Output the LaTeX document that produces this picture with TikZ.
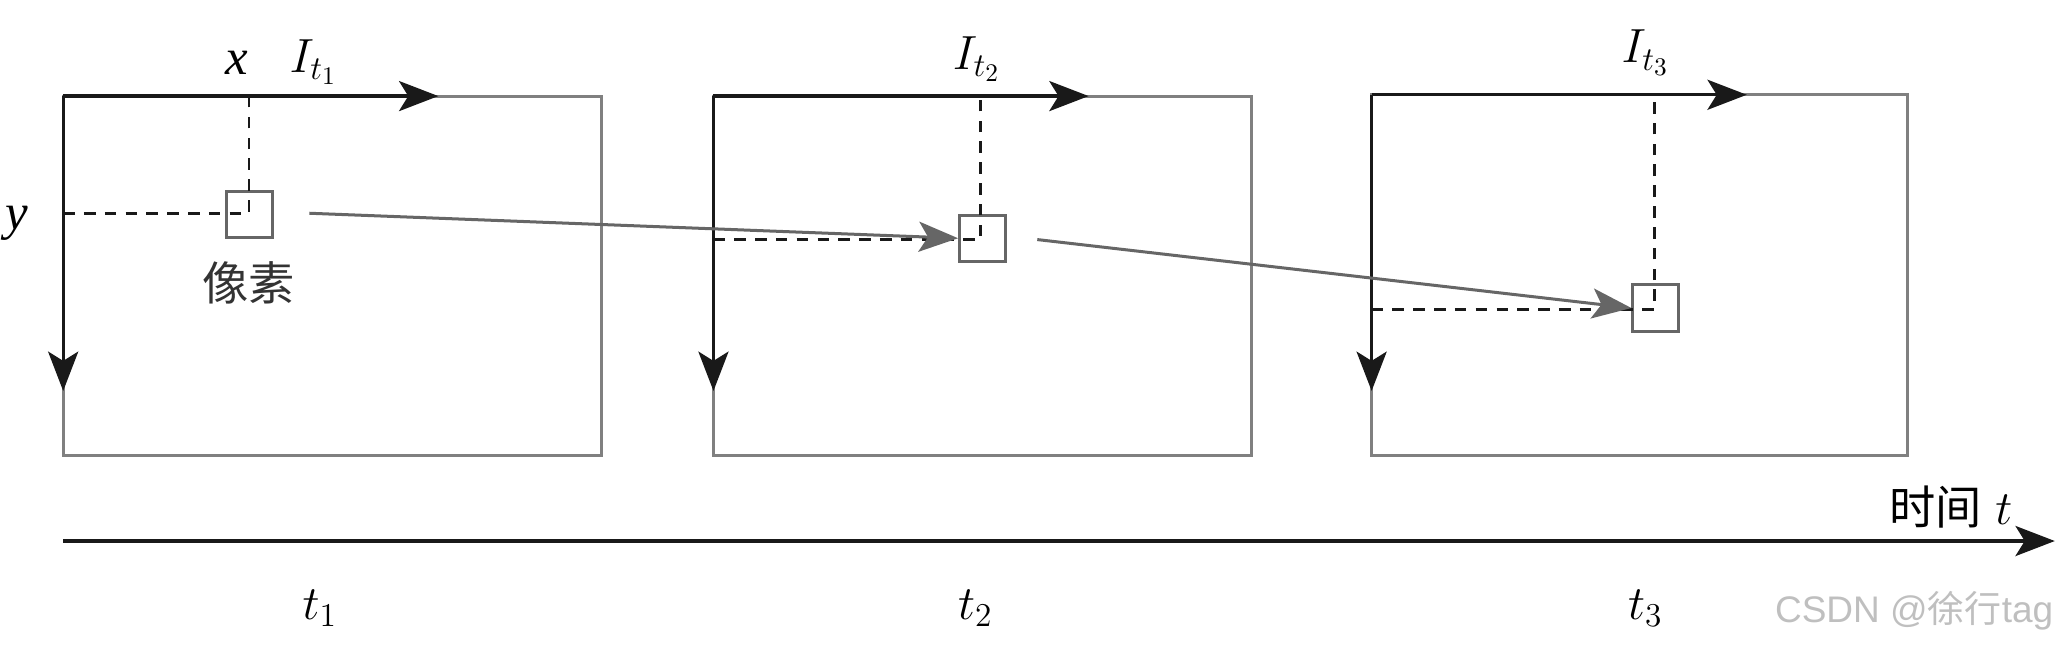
\documentclass[tikz,border=0pt]{standalone}
\usepackage{fontspec}
\setmainfont{Liberation Serif}
\newfontfamily\cjk{Noto Sans CJK SC}
\newfontfamily\wm{Liberation Sans}
\usetikzlibrary{arrows.meta}
\begin{document}
\begin{tikzpicture}[x=0.02cm,y=-0.02cm,
  frame/.style={draw=black!50,line width=1.3pt},
  axis/.style={draw=black!90,line width=1.4pt,-{Stealth[length=17pt,width=13pt,inset=4pt]}},
  guide/.style={draw=black!90,line width=1.1pt,dash pattern=on 5pt off 4pt},
  pix/.style={draw=black!60,line width=1.3pt,minimum size=0.7cm,inner sep=0,fill=none},
  flow/.style={draw=black!60,line width=1.3pt,-{Stealth[length=17pt,width=13pt,inset=4pt]}},
  lab/.style={font=\fontsize{22}{24}\selectfont\itshape},
  zh/.style={font=\cjk\fontsize{20}{22}\selectfont}]
\useasboundingbox (0,0) rectangle (1568,490);
% frames
\foreach \i/\xa/\xb/\ya/\xt in {1/48/457/73/333,2/542/951/73/827,3/1042/1449/72/1327}{
  \draw[frame] (\xa,\ya) rectangle (\xb,346);
  \coordinate (o\i) at (\xa,\ya);
  \coordinate (xe\i) at (\xt,\ya);
  \coordinate (ye\i) at (\xa,297);
  \draw[axis] (o\i) -- (xe\i);
  \draw[axis] (o\i) -- (ye\i);
}
% pixels
\node[pix] (p1) at (189.5,163) {};
\node[pix] (p2) at (746.5,181) {};
\node[pix] (p3) at (1258,234) {};
\coordinate (c1) at (189,162); \coordinate (c2) at (745,182); \coordinate (c3) at (1257,235);
\draw[guide] (48,162) -- (c1) -- (189,73);
\draw[guide] (542,182) -- (c2) -- (745,73);
\draw[guide] (1042,235) -- (c3) -- (1257,72);
% flow arrows
\coordinate (s1) at (235,162); \coordinate (s2) at (788,182);
\draw[flow] (s1) -- (p2.west);
\draw[flow] (s2) -- (p3.west);
% labels
\node[lab] (lx) at (180,48) {x};
\node[lab] (ly) at (13,170) {y};
\node[lab] (I1) at (238,47) {$I_{t_1}$};
\node[lab] (I2) at (742,45) {$I_{t_2}$};
\node[lab] (I3) at (1250,40) {$I_{t_3}$};
\node[zh,text=black!80] (pxl) at (189,215) {像素};
% time axis
\coordinate (ts) at (48,411); \coordinate (te) at (1561,411);
\draw[axis] (ts) -- (te);
\node[anchor=east] (tl) at (1535,385) {{\cjk\fontsize{20}{22}\selectfont 时间}\hspace{6pt}\fontsize{22}{24}\selectfont$t$};
\node[lab] (t1) at (243,462) {$t_1$};
\node[lab] (t2) at (741,462) {$t_2$};
\node[lab] (t3) at (1250,462) {$t_3$};
\node[anchor=east,text=black!25] (wmk) at (1566,464) {\wm\fontsize{16}{18}\selectfont CSDN @{\cjk 徐行}tag};
\end{tikzpicture}
\end{document}
